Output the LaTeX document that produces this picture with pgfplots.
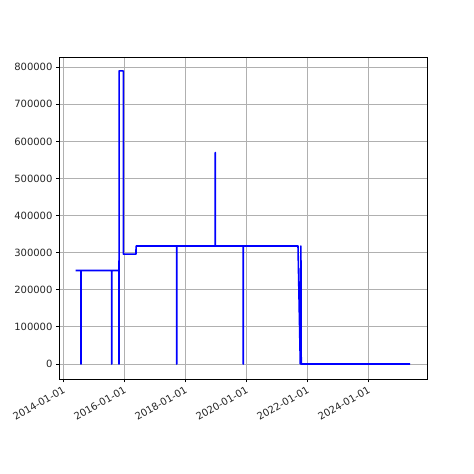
\documentclass[border=0pt]{standalone}
\usepackage{fontspec}
\setmainfont{DejaVu Sans}
\usepackage{pgfplots}
\pgfplotsset{compat=1.18}

\begin{document}
\begin{tikzpicture}[x=1pt,y=1pt]
\path[use as bounding box] (0,0) rectangle (474,474);
\begin{axis}[
    at={(59.5pt,95pt)}, anchor=south west,
    scale only axis,
    width=367.5pt, height=322pt,
    xmin=2013.885, xmax=2025.934,
    ymin=-40430, ymax=827500,
    xtick={2014,2016,2018,2020,2022,2024},
    xticklabels={2014-01-01,2016-01-01,2018-01-01,2020-01-01,2022-01-01,2024-01-01},
    xticklabel style={rotate=30, anchor=north east, inner sep=2pt},
    ytick={0,100000,200000,300000,400000,500000,600000,700000,800000},
    yticklabel style={/pgf/number format/.cd, fixed, 1000 sep={}, assume math mode=true},
    scaled y ticks=false,
    tick pos=left, tick align=outside,
    major tick length=3.5pt,
    tick style={black, line width=0.8pt},
    grid=major,
    grid style={color=black!31, line width=0.8pt},
    axis line style={line width=0.8pt},
    ticklabel style={font=\fontsize{10}{12}\selectfont, text=black!85},
]
\addplot[color=blue, line width=1.6pt, line join=round, line cap=butt, mark=none] coordinates {
    (2014.416,252000) (2014.585,252000) (2014.59,0) (2014.595,252000)
    (2015.592,252000) (2015.597,0) (2015.602,252000)
    (2015.832,252000) (2015.836,0) (2015.84,790000)
    (2015.977,790000) (2015.98,296000)
    (2016.393,296000) (2016.396,318000)
    (2017.724,318000) (2017.728,0) (2017.732,318000)
    (2018.990,318000) (2018.993,570000) (2018.996,318000)
    (2019.907,318000) (2019.911,0) (2019.915,318000)
    (2021.705,318000) (2021.78,0) (2021.80,318000) (2021.81,0)
    (2025.377,0)
};
\end{axis}
\end{tikzpicture}
\end{document}
